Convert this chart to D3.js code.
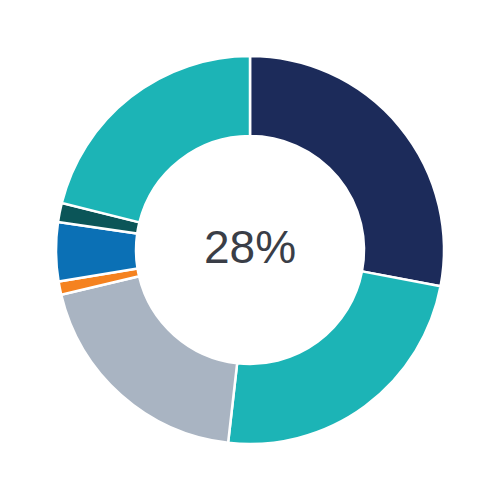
<!DOCTYPE html>
<html>
<head>
<meta charset="utf-8">
<script src="https://cdn.jsdelivr.net/npm/d3@7"></script>
<style>
  html, body { margin: 0; padding: 0; background: #fff; }
</style>
</head>
<body>
<svg id="chart" width="500" height="500"></svg>
<script>
// slices, clockwise from 12 o'clock
const categories = ['A', 'B', 'C', 'D', 'E', 'F', 'G'];
const shares = [28, 23.8, 19.5, 1.1, 4.9, 1.6, 21.1];
const sliceColors = ['#1c2b5a', '#1cb4b6', '#a9b4c2', '#f5821f', '#0b70b5', '#0b5558', '#1cb4b6'];
const centerLabel = '28%';

const width = 500, height = 500,
  cx = 250, cy = 250,
  outerR = 194, innerR = 114;

const svg = d3.select('#chart');
const g = svg.append('g').attr('transform', `translate(${cx},${cy})`);

const data = categories.map((c, i) => ({ c, v: shares[i], color: sliceColors[i] }));

const pie = d3.pie()
  .value(d => d.v)
  .sort(null);

const arc = d3.arc()
  .innerRadius(innerR)
  .outerRadius(outerR);

g.selectAll('path.slice')
  .data(pie(data))
  .join('path')
  .attr('class', 'slice')
  .attr('d', arc)
  .attr('fill', d => d.data.color)
  .attr('stroke', '#fff')
  .attr('stroke-width', 2.5)
  .attr('stroke-linejoin', 'miter');

g.append('text')
  .attr('x', 0)
  .attr('y', 13)
  .attr('text-anchor', 'middle')
  .attr('font-family', '"Liberation Sans", Arial, sans-serif')
  .attr('font-size', 46)
  .attr('fill', '#3a3e47')
  .text(centerLabel);
</script>
</body>
</html>
